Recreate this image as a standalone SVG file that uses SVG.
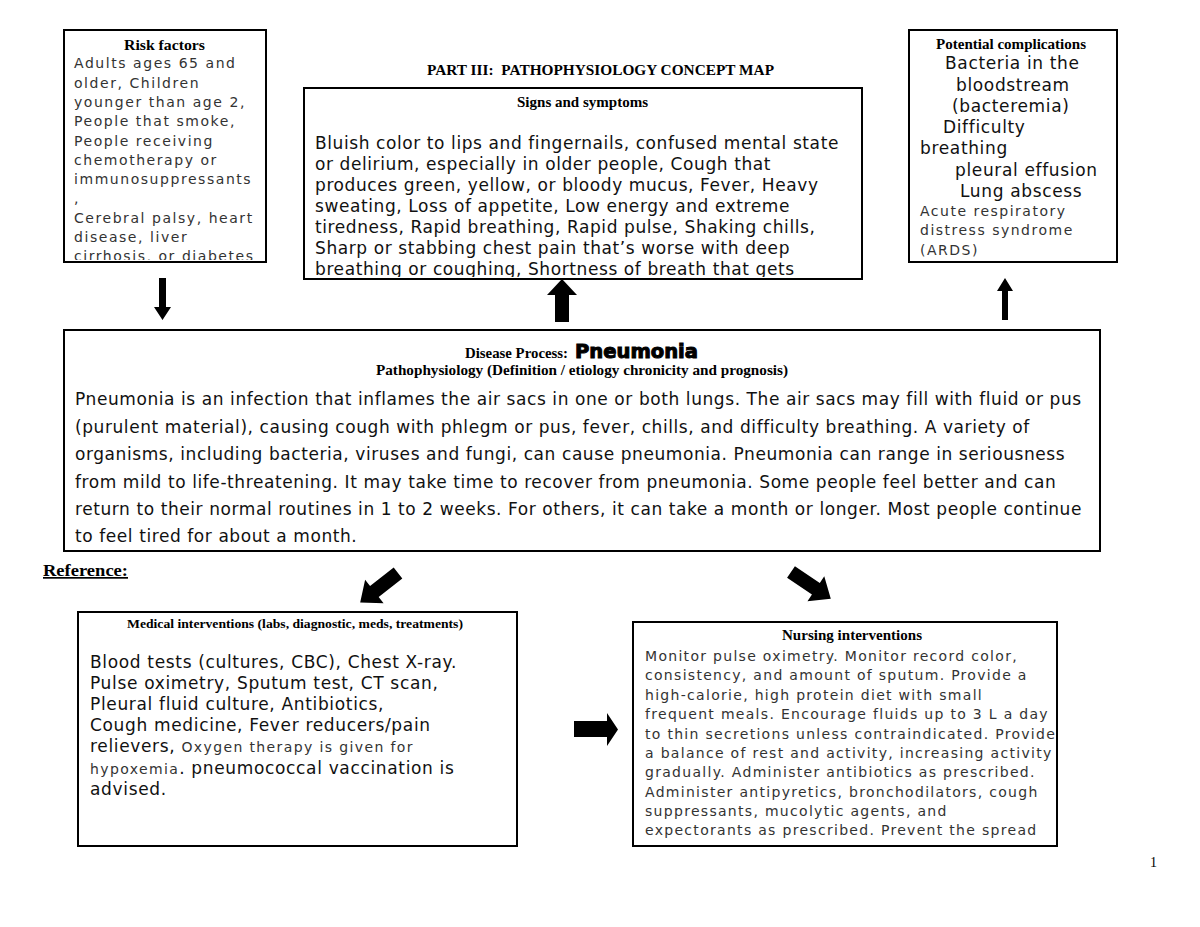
<svg xmlns="http://www.w3.org/2000/svg" width="1200" height="927" viewBox="0 0 1200 927">
<style>
.box{fill:#fff;stroke:#000;stroke-width:2}
.hd{font-family:"Liberation Serif",serif;font-weight:bold;fill:#000}
.b{font-family:"DejaVu Sans",sans-serif;fill:#111}
.s14{font-size:14px}
.s17{font-size:17px}
.lt{fill:#333}
.arr{fill:#000}
</style>
<defs>
<clipPath id="cRisk"><rect x="65" y="31" width="200" height="229"/></clipPath>
<clipPath id="cSign"><rect x="305" y="89" width="556" height="188"/></clipPath>
</defs>
<rect width="1200" height="927" fill="#fff"/>
<text class="hd" x="427" y="75" font-size="15" textLength="347" lengthAdjust="spacingAndGlyphs" xml:space="preserve">PART III:  PATHOPHYSIOLOGY CONCEPT MAP</text>

<g id="risk">
<rect class="box" x="64" y="30" width="202" height="232"/>
<text class="hd" x="124" y="50" font-size="14.5" textLength="81" lengthAdjust="spacingAndGlyphs">Risk factors</text>
<g clip-path="url(#cRisk)" class="b s14 lt" letter-spacing="1.55">
<text x="74" y="68">Adults ages 65 and</text>
<text x="74" y="88">older, Children</text>
<text x="74" y="107">younger than age 2,</text>
<text x="74" y="126">People that smoke,</text>
<text x="74" y="146">People receiving</text>
<text x="74" y="165">chemotherapy or</text>
<text x="74" y="184">immunosuppressants</text>
<text x="74" y="203">,</text>
<text x="74" y="223">Cerebral palsy, heart</text>
<text x="74" y="242">disease, liver</text>
<text x="74" y="261">cirrhosis, or diabetes</text>
</g>
</g>

<g id="signs">
<rect class="box" x="304" y="88" width="558" height="191"/>
<text class="hd" x="517" y="107" font-size="14" textLength="131" lengthAdjust="spacingAndGlyphs">Signs and symptoms</text>
<g clip-path="url(#cSign)" class="b s17" letter-spacing="0.59">
<text x="315" y="149">Bluish color to lips and fingernails, confused mental state</text>
<text x="315" y="170">or delirium, especially in older people, Cough that</text>
<text x="315" y="191">produces green, yellow, or bloody mucus, Fever, Heavy</text>
<text x="315" y="212">sweating, Loss of appetite, Low energy and extreme</text>
<text x="315" y="233">tiredness, Rapid breathing, Rapid pulse, Shaking chills,</text>
<text x="315" y="254">Sharp or stabbing chest pain that’s worse with deep</text>
<text x="315" y="275">breathing or coughing, Shortness of breath that gets</text>
</g>
</g>

<g id="complications">
<rect class="box" x="909" y="30" width="208" height="232"/>
<text class="hd" x="936" y="49" font-size="14.5" textLength="150" lengthAdjust="spacingAndGlyphs">Potential complications</text>
<g class="b s17" letter-spacing="0.65">
<text x="945" y="69">Bacteria in the</text>
<text x="956" y="91">bloodstream</text>
<text x="952" y="112">(bacteremia)</text>
<text x="943" y="133">Difficulty</text>
<text x="920" y="154">breathing</text>
<text x="955" y="176">pleural effusion</text>
<text x="960" y="197">Lung abscess</text>
</g>
<g class="b s14 lt" letter-spacing="1.5">
<text x="920" y="216">Acute respiratory</text>
<text x="920" y="235">distress syndrome</text>
<text x="920" y="255">(ARDS)</text>
</g>
</g>

<g id="disease">
<rect class="box" x="64" y="330" width="1036" height="221"/>
<text class="hd" x="465" y="358" font-size="15" textLength="103" lengthAdjust="spacingAndGlyphs">Disease Process:</text>
<text x="575" y="358" font-family="DejaVu Sans,sans-serif" font-weight="bold" font-size="19" stroke="#000" stroke-width="1" textLength="123" lengthAdjust="spacingAndGlyphs">Pneumonia</text>
<text class="hd" x="376" y="375" font-size="15" textLength="412" lengthAdjust="spacingAndGlyphs">Pathophysiology (Definition / etiology chronicity and prognosis)</text>
<g class="b s17" letter-spacing="0.58">
<text x="75" y="405">Pneumonia is an infection that inflames the air sacs in one or both lungs. The air sacs may fill with fluid or pus</text>
<text x="75" y="433">(purulent material), causing cough with phlegm or pus, fever, chills, and difficulty breathing. A variety of</text>
<text x="75" y="460">organisms, including bacteria, viruses and fungi, can cause pneumonia. Pneumonia can range in seriousness</text>
<text x="75" y="488">from mild to life-threatening. It may take time to recover from pneumonia. Some people feel better and can</text>
<text x="75" y="515">return to their normal routines in 1 to 2 weeks. For others, it can take a month or longer. Most people continue</text>
<text x="75" y="542">to feel tired for about a month.</text>
</g>
</g>

<text class="hd" x="43" y="576" font-size="17" textLength="85" lengthAdjust="spacingAndGlyphs" text-decoration="underline">Reference:</text>

<g id="medical">
<rect class="box" x="78" y="612" width="439" height="234"/>
<text class="hd" x="127" y="628" font-size="13.5" textLength="336" lengthAdjust="spacingAndGlyphs">Medical interventions (labs, diagnostic, meds, treatments)</text>
<g class="b s17" letter-spacing="0.66">
<text x="90" y="668">Blood tests (cultures, CBC), Chest X-ray.</text>
<text x="90" y="689">Pulse oximetry, Sputum test, CT scan,</text>
<text x="90" y="710">Pleural fluid culture, Antibiotics,</text>
<text x="90" y="731">Cough medicine, Fever reducers/pain</text>
<text x="90" y="752">relievers, <tspan class="s14 lt" letter-spacing="1.38">Oxygen therapy is given for</tspan></text>
<text x="90" y="774"><tspan class="s14 lt" letter-spacing="1.38">hypoxemia</tspan>. pneumococcal vaccination is</text>
<text x="90" y="795">advised.</text>
</g>
</g>

<g id="nursing">
<rect class="box" x="633" y="622" width="424" height="224"/>
<text class="hd" x="782" y="640" font-size="14.5" textLength="140" lengthAdjust="spacingAndGlyphs">Nursing interventions</text>
<g class="b s14 lt" letter-spacing="1.3">
<text x="645" y="661">Monitor pulse oximetry. Monitor record color,</text>
<text x="645" y="680">consistency, and amount of sputum. Provide a</text>
<text x="645" y="700">high-calorie, high protein diet with small</text>
<text x="645" y="719">frequent meals. Encourage fluids up to 3 L a day</text>
<text x="645" y="739">to thin secretions unless contraindicated. Provide</text>
<text x="645" y="758">a balance of rest and activity, increasing activity</text>
<text x="645" y="777">gradually. Administer antibiotics as prescribed.</text>
<text x="645" y="797">Administer antipyretics, bronchodilators, cough</text>
<text x="645" y="816">suppressants, mucolytic agents, and</text>
<text x="645" y="835">expectorants as prescribed. Prevent the spread</text>
</g>
</g>

<text x="1150" y="867" font-family="Liberation Serif,serif" font-size="14" fill="#000">1</text>

<g id="connectors" class="arr">
<polygon points="159,278 166,278 166,307 171,307 162.5,320 154,307 159,307"/>
<polygon points="562,279 577,295 569,295 569,322 555,322 555,295 547,295"/>
<polygon points="1005,278 1013,291 1008,291 1008,320 1002,320 1002,291 997,291"/>
<polygon points="0,-7 30,-7 30,-15 48,0 30,15 30,7 0,7" transform="translate(398,573) rotate(142)"/>
<polygon points="0,-7 30,-7 30,-15 48,0 30,15 30,7 0,7" transform="translate(791,572) rotate(34)"/>
<polygon points="574,721 607,721 607,713 618,729.5 607,746 607,737 574,737"/>
</g>
</svg>
